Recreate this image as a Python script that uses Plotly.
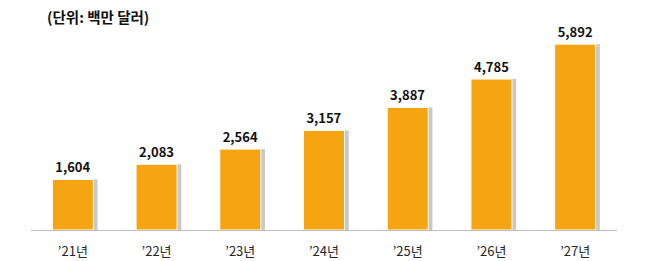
import plotly.graph_objects as go

years = ["’21년", "’22년", "’23년", "’24년", "’25년", "’26년", "’27년"]
values = [1604, 2083, 2564, 3157, 3887, 4785, 5892]
title_text = "(단위: 백만 달러)"

FONT = "Noto Sans CJK KR"
BAR_W = 0.49
SHIFT = 0.05

fig = go.Figure()
# shadow
fig.add_trace(go.Bar(
    x=years, y=values, width=BAR_W, offset=-BAR_W / 2 + SHIFT,
    marker=dict(color="#C8C8C8", line=dict(width=0)),
    hoverinfo="skip", showlegend=False,
))
fig.add_trace(go.Bar(
    x=years, y=values, width=BAR_W, offset=-BAR_W / 2,
    marker=dict(color="#F6A512", line=dict(color="white", width=1)),
    texttemplate="%{y:,}", textposition="outside", cliponaxis=False,
    textfont=dict(family=FONT, size=13, color="#111111", weight="bold"),
    showlegend=False,
))

fig.update_layout(
    width=645, height=261,
    margin=dict(l=31, r=28, t=30, b=31, autoexpand=False),
    barmode="overlay",
    plot_bgcolor="white", paper_bgcolor="white",
    font=dict(family=FONT),
    title=dict(text=title_text, x=47 / 645, xanchor="left", xref="container",
               y=1 - 18 / 261, yref="container", yanchor="middle",
               font=dict(family=FONT, size=14.5, color="#111111", weight="bold")),
    xaxis=dict(showline=True, linecolor="#BFBFBF", linewidth=1, showgrid=False,
               ticks="", ticklabelstandoff=9, automargin=False,
               tickfont=dict(family=FONT, size=13, color="#262626")),
    yaxis=dict(range=[0, 6340], visible=False, showgrid=False, automargin=False),
)

fig.write_html("out.html")
